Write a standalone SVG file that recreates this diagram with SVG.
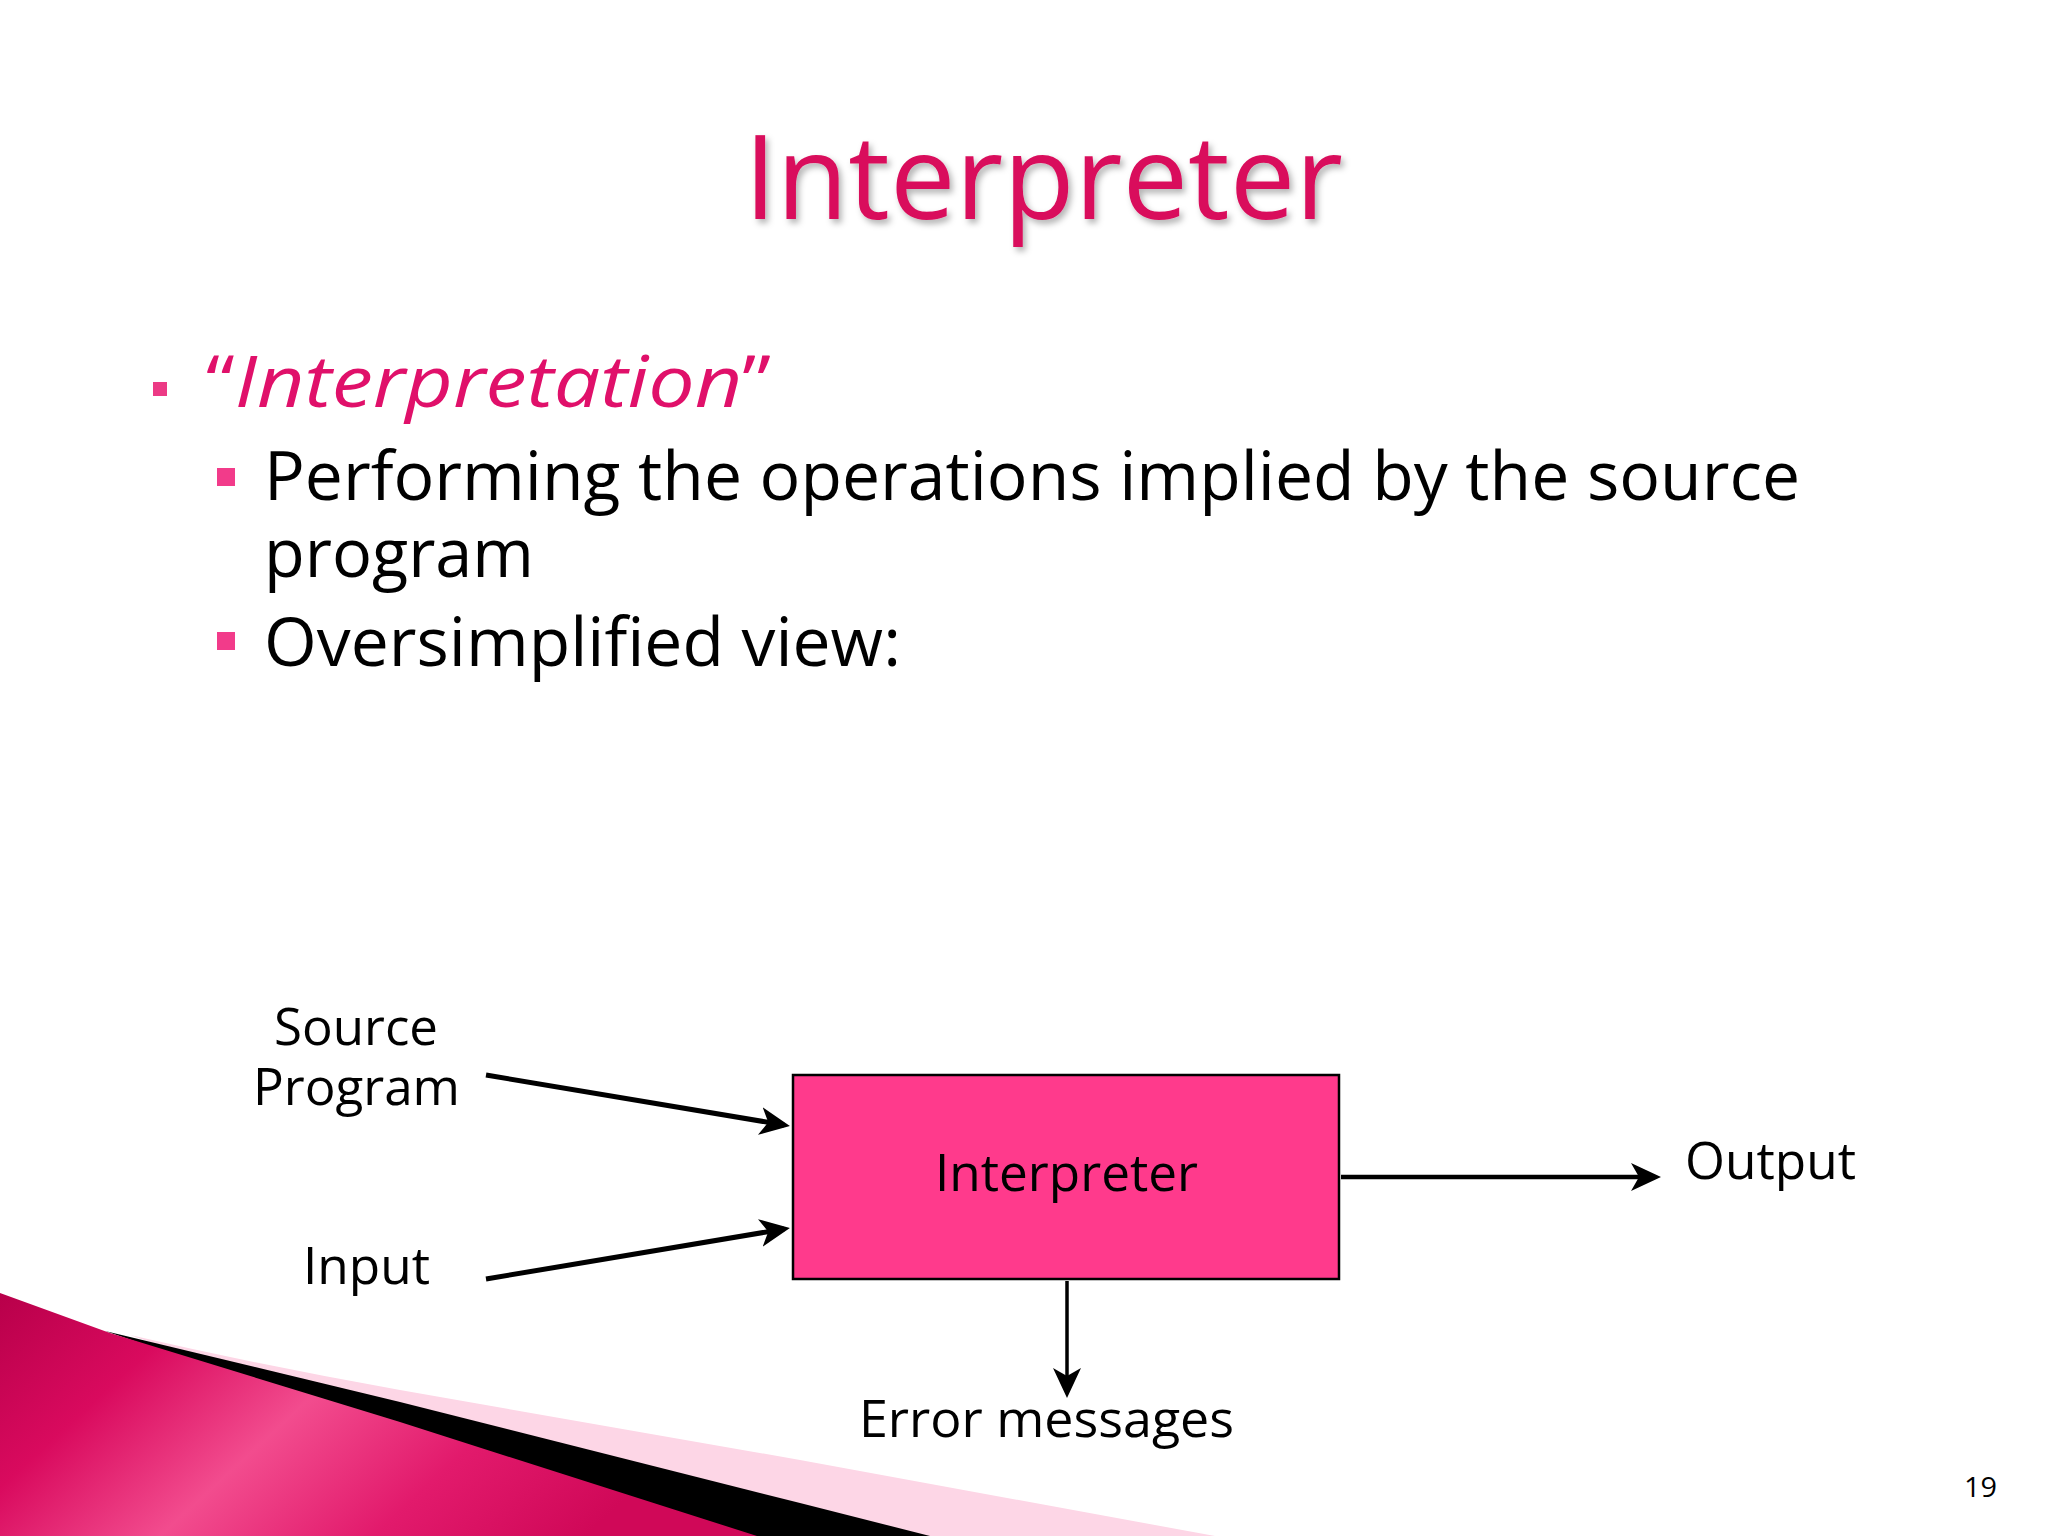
<svg xmlns="http://www.w3.org/2000/svg" width="2048" height="1536" viewBox="0 0 2048 1536">
  <defs>
    <style>
      .txt { font-family: "Open Sans", "DejaVu Sans", sans-serif; fill: #000000; }
      .lbl { font-family: "Open Sans", "DejaVu Sans", sans-serif; font-size: 52px; fill: #000000; }
      .conn { stroke: #000000; fill: none; marker-end: url(#arrow); }
      .bul { fill: #f23b8a; }
    </style>
    <marker id="arrow" markerUnits="userSpaceOnUse" viewBox="0 0 30 28" refX="24" refY="14" markerWidth="30" markerHeight="28" orient="auto">
      <path d="M0,0 L30,14 L0,28 L8,14 Z" fill="#000000"/>
    </marker>
    <linearGradient id="swoosh" x1="0" y1="0" x2="1" y2="0.35">
      <stop offset="0" stop-color="#b8004a"/>
      <stop offset="0.25" stop-color="#d90a5e"/>
      <stop offset="0.5" stop-color="#f24c8e"/>
      <stop offset="0.75" stop-color="#e21a6c"/>
      <stop offset="1" stop-color="#d00858"/>
    </linearGradient>
    <filter id="shadow" x="-5%" y="-20%" width="110%" height="150%">
      <feDropShadow dx="3" dy="4" stdDeviation="3" flood-color="#000000" flood-opacity="0.3"/>
    </filter>
  </defs>

  <rect x="0" y="0" width="2048" height="1536" fill="#ffffff"/>

  <!-- bottom-left decoration -->
  <g id="decoration">
    <path d="M130,1335 Q260,1365 400,1390 L800,1460 L1215,1536 L700,1536 Z" fill="#fdd6e6"/>
    <path d="M105,1331 L400,1402 L800,1503 L930,1536 L700,1536 Z" fill="#000000"/>
    <path d="M0,1293 L110,1333 L400,1422 L757,1536 L0,1536 Z" fill="url(#swoosh)"/>
  </g>

  <!-- title -->
  <g id="title">
    <text x="744" y="219" font-family="Open Sans, DejaVu Sans, sans-serif" font-size="117" fill="#d90f5c" filter="url(#shadow)" textLength="599" lengthAdjust="spacingAndGlyphs">Interpreter</text>
  </g>

  <!-- bullets -->
  <g id="bullets">
    <rect x="153" y="382" width="14" height="14" fill="#ec3a85"/>
    <text x="206" y="407" font-family="Open Sans, DejaVu Sans, sans-serif" font-size="72" fill="#e0106a" textLength="565" lengthAdjust="spacingAndGlyphs">“<tspan font-style="italic">Interpretation</tspan>”</text>

    <rect class="bul" x="217" y="468" width="18" height="18"/>
    <text class="txt" x="264" y="500" font-size="68" textLength="1536" lengthAdjust="spacingAndGlyphs">Performing the operations implied by the source</text>
    <text class="txt" x="264" y="577" font-size="68" textLength="270" lengthAdjust="spacingAndGlyphs">program</text>

    <rect class="bul" x="217" y="632" width="18" height="18"/>
    <text class="txt" x="264" y="666" font-size="68" textLength="637" lengthAdjust="spacingAndGlyphs">Oversimplified view:</text>
  </g>

  <!-- connectors -->
  <g id="connectors">
    <line class="conn" x1="486" y1="1075" x2="784" y2="1125" stroke-width="5"/>
    <line class="conn" x1="486" y1="1279" x2="784" y2="1229" stroke-width="5"/>
    <line class="conn" x1="1341" y1="1177" x2="1655" y2="1177" stroke-width="4.5"/>
    <line class="conn" x1="1067" y1="1281" x2="1067" y2="1392" stroke-width="3.5"/>
  </g>

  <!-- nodes -->
  <g id="node-interpreter">
    <rect x="793" y="1075" width="546" height="204" fill="#ff3a8c" stroke="#000000" stroke-width="2.5"/>
    <text class="lbl" x="935" y="1191" textLength="263" lengthAdjust="spacingAndGlyphs">Interpreter</text>
  </g>
  <g id="node-source">
    <text class="lbl"><tspan x="274" y="1045" textLength="164" lengthAdjust="spacingAndGlyphs">Source</tspan><tspan x="253" y="1105" textLength="207" lengthAdjust="spacingAndGlyphs">Program</tspan></text>
  </g>
  <g id="node-input">
    <text class="lbl" x="303" y="1284" textLength="127" lengthAdjust="spacingAndGlyphs">Input</text>
  </g>
  <g id="node-output">
    <text class="lbl" x="1685" y="1179" textLength="171" lengthAdjust="spacingAndGlyphs">Output</text>
  </g>
  <g id="node-error">
    <text class="lbl" x="859" y="1437" textLength="375" lengthAdjust="spacingAndGlyphs">Error messages</text>
  </g>

  <!-- page number -->
  <g id="page-number">
    <text class="txt" x="1964" y="1497" font-size="27" textLength="33" lengthAdjust="spacingAndGlyphs">19</text>
  </g>
</svg>
